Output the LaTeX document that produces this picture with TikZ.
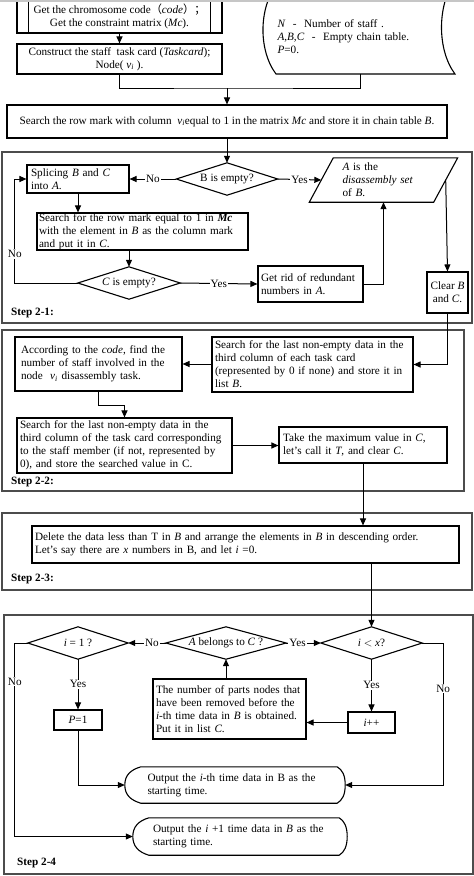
\documentclass[tikz,border=0pt]{standalone}
\usepackage{fontspec}
\setmainfont{Liberation Serif}
\newfontfamily\cjk{Noto Sans CJK SC}
\usetikzlibrary{arrows.meta, calc}
\newcommand{\vi}{\textit{v}\textsubscript{\textit{i}}}
\newcommand{\outshape}[1]{%
  \draw[line width=1.1pt] ([xshift=16]#1.north west) -- ([xshift=-8]#1.north east)
    .. controls +(5,3) and +(0,-10) .. (#1.east)
    .. controls +(0,10) and +(5,-3) .. ([xshift=-8]#1.south east)
    -- ([xshift=16]#1.south west)
    .. controls +(-10,-3) and +(0,10) .. (#1.west)
    .. controls +(0,-10) and +(-10,3) .. ([xshift=16]#1.north west);}
\newcommand{\diamondshape}[1]{%
  \draw[line width=1.1pt] (#1.north) -- (#1.east) -- (#1.south) -- (#1.west) -- cycle;}
\tikzset{
	txt/.style={
			inner sep=0pt,
			font=\fontsize{11.2}{13}\selectfont
		},
	box/.style={
			txt,
			draw=black,
			line width=1.1pt,
			fill=white
		},
	frame/.style={
			draw=black!70,
			line width=1.4pt
		},
	steplbl/.style={
			txt,
			anchor=west,
			font=\fontsize{11.2}{13}\selectfont\bfseries
		},
	lbl/.style={
			txt,
			fill=white,
			inner sep=1pt
		},
	line/.style={line width=1pt},
	arr/.style={line width=1pt, -{Triangle[length=7pt,width=6pt]}}
}

\begin{document}
\begin{tikzpicture}[x=1pt, y=-1pt]
\useasboundingbox (0,0) rectangle (474,876);
\clip (0,0) rectangle (474,876);

% step frames
\draw[frame] (2,152) rectangle (472,323);
\draw[frame] (2,330) rectangle (464,491);
\draw[frame] (2,513) rectangle (472,590);
\draw[frame] (4,615) rectangle (473,874);

% start
\node[box, minimum width=205, minimum height=34, align=center] (chrom) at (119.5,16)
  {Get the chromosome code{\cjk （}\textit{code}{\cjk ）；}\\Get the constraint matrix (\textit{Mc}).};
\draw[line width=1.1pt] ([xshift=12]chrom.north west) -- ([xshift=12]chrom.south west)
  ([xshift=-12]chrom.north east) -- ([xshift=-12]chrom.south east);
\node[box, minimum width=205, minimum height=30, align=center] (card) at (119.5,59)
  {Construct the staff\ \ task card (\textit{Taskcard});\\Node( \vi\ ).};
\node[txt, text width=165, minimum height=74, align=left] (init) at (360,37)
  {\textit{N}\ \ -\ \ Number of staff .\\\textit{A,B,C}\ \ -\ \ Empty chain table.\\\textit{P}=0.};
\draw[line width=1.1pt] (280,-20) .. controls (258,5) and (258,50) .. (276,74) -- (455,74)
  .. controls (437,50) and (437,5) .. (455,-20);
\draw[gray!45, line width=2pt] (0,1) -- (474,1);

\coordinate (join) at (227,88);
\draw[arr] (chrom.south) -- (card.north);
\draw[line] (card.south) |- (join) -| (init.south);
\node[box, minimum width=440, minimum height=33] (rowmark) at (227,121.5)
  {Search the row mark with column \ \vi equal to 1 in the matrix \textit{Mc} and store it in chain table \textit{B}.};
\draw[arr] (join) -- (rowmark);

% step 2-1
\node[txt, minimum width=101, minimum height=32] (bempty) at (227,179) {B is empty?};
\diamondshape{bempty}
\node[box, minimum width=102, minimum height=28, text width=94, align=left] (splice) at (78,179)
  {Splicing \textit{B} and \textit{C}\\into \textit{A}.};
\node[txt, minimum width=124, minimum height=44, text width=82, align=left] (dis) at (383.5,180)
  {\textit{A} is the\\\textit{disassembly set}\\of \textit{B}.};
\draw[line width=1.1pt] ([xshift=12]dis.north west) -- ([xshift=12]dis.north east)
  -- ([xshift=-12]dis.south east) -- ([xshift=-12]dis.south west) -- cycle;
\node[box, minimum width=211, minimum height=37, text width=207, align=left] (search1) at (142.5,231.5)
  {Search for the row mark equal to 1 in \textbf{\textit{Mc}}\\with the element in \textit{B} as the column mark\\and put it in \textit{C}.};
\node[txt, minimum width=102, minimum height=32] (cempty) at (129,283) {\textit{C} is empty?};
\diamondshape{cempty}
\node[box, minimum width=105, minimum height=36, text width=99, align=left] (getrid) at (310.5,284)
  {Get rid of redundant\\numbers in \textit{A}.};
\node[box, minimum width=41, minimum height=41, align=center] (clear) at (447.5,292.5)
  {Clear \textit{B}\\and \textit{C}.};
\node[steplbl] (s1) at (11,313) {Step 2-1:};

\draw[arr] (rowmark) -- (bempty.north);
\draw[arr] (bempty.west) -- node[lbl]{No} (splice.east);
\draw[arr] (bempty.east) -- node[lbl]{Yes} (dis.west);
\draw[arr] (splice) -- (splice |- search1.north);
\draw[arr] (search1.south -| cempty.north) -- (cempty.north);
\draw[arr] (cempty.east) -- node[lbl]{Yes} (getrid.west);
\draw[arr] (cempty.west) -- ++(-63,0) |- node[lbl, pos=0.14]{No} (splice.west);
\draw[arr] (getrid.east) -| (dis.south);
\draw[arr] (dis.east) -- (clear.north);

% step 2-2
\node[box, minimum width=201, minimum height=55, text width=195, align=left] (search2) at (312.5,364.5)
  {Search for the last non-empty data in the\\third column of each task card\\(represented by 0 if none) and store it in\\list \textit{B}.};
\node[box, minimum width=167, minimum height=54, text width=155, align=left] (accord) at (98.5,364)
  {According to the \textit{code}, find the\\number of staff involved in the\\node\ \ \vi\ disassembly task.};
\node[box, minimum width=215, minimum height=55, text width=209, align=left] (search3) at (124.5,445.5)
  {Search for the last non-empty data in the\\third column of the task card corresponding\\to the staff member (if not, represented by\\0), and store the searched value in C.};
\node[box, minimum width=168, minimum height=36, text width=160, align=left] (takemax) at (363,445)
  {Take the maximum value in \textit{C},\\let's call it \textit{T}, and clear \textit{C}.};
\node[steplbl] (s2) at (11,482) {Step 2-2:};

\draw[arr] (clear.south) |- (search2.east);
\draw[arr] (search2.west |- accord.east) -- (accord.east);
\draw[arr] (accord.south) -- ++(0,14) -| (search3.north);
\draw[arr] (search3.east) -- (takemax.west |- search3.east);

% step 2-3
\node[box, minimum width=427, minimum height=37, text width=421, align=left] (delete) at (245.5,544.5)
  {Delete the data less than T in \textit{B} and arrange the elements in \textit{B} in descending order.\\Let's say there are \textit{x} numbers in B, and let \textit{i} =0.};
\node[steplbl] (s3) at (11,579) {Step 2-3:};
\draw[arr] (takemax.south) -- (takemax.south |- delete.north);

% step 2-4
\node[txt, minimum width=101, minimum height=32] (ix) at (371.5,643) {\textit{i} $<$ \textit{x}?};
\diamondshape{ix}
\node[txt, minimum width=120, minimum height=32] (abel) at (226,643) {\textit{A} belongs to \textit{C} ?};
\diamondshape{abel}
\node[txt, minimum width=100, minimum height=32] (ione) at (78,643) {\textit{i} = 1 ?};
\diamondshape{ione}
\node[box, minimum width=48, minimum height=20] (pone) at (78,720) {\textit{P}=1};
\node[box, minimum width=47, minimum height=21] (ipp) at (371.5,722.5) {\textit{i}++};
\node[box, minimum width=153, minimum height=60, text width=147, align=left] (parts) at (229.5,709)
  {The number of parts nodes that\\have been removed before the\\\textit{i}-th time data in \textit{B} is obtained.\\Put it in list \textit{C}.};
\node[txt, minimum width=220, minimum height=36, text width=175, align=left] (out1) at (235,785)
  {Output the \textit{i}-th time data in B as the\\starting time.};
\outshape{out1}
\node[txt, minimum width=214, minimum height=37, text width=174, align=left] (out2) at (240,836.5)
  {Output the \textit{i} +1 time data in \textit{B} as the\\starting time.};
\outshape{out2}
\node[steplbl] (s4) at (17,863) {Step 2-4};

\draw[arr] (delete.south -| ix.north) -- (ix.north);
\draw[arr] (abel.east) -- node[lbl, pos=0.33]{Yes} (ix.west);
\draw[arr] (abel.west) -- node[lbl, pos=0.37]{No} (ione.east);
\draw[arr] (ione.south) -- node[lbl]{Yes} (pone.north);
\draw[arr] (ix.south) -- node[lbl]{Yes} (ipp.north);
\draw[arr] (ipp.west) -- (ipp.west -| parts.east);
\draw[arr] (parts.north -| abel.south) -- (abel.south);
\draw[arr] (pone.south) |- (out1.west);
\draw[arr] (ix.east) -- ++(21,0) |- node[lbl, pos=0.16]{No} (out1.east);
\draw[arr] (ione.west) -- ++(-13,0) |- node[lbl, pos=0.1]{No} (out2.west);

\end{tikzpicture}
\end{document}
